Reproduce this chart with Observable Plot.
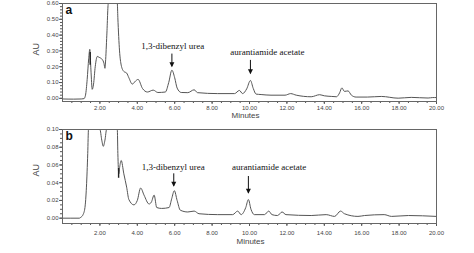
<!DOCTYPE html>
<html>
<head>
<meta charset="utf-8">
<script src="https://cdn.jsdelivr.net/npm/d3@7"></script>
<script src="https://cdn.jsdelivr.net/npm/@observablehq/plot@0.6"></script>
<style>
  html, body { margin: 0; padding: 0; background: #fff; }
  #wrap { width: 474px; height: 253px; position: relative; overflow: hidden; }
  #wrap svg { display: block; }
</style>
</head>
<body>
<div id="wrap"></div>
<script>
// ---- Data ----
const timesA = [0.0,0.6,1.0,1.15,1.23,1.32,1.40,1.46,1.52,1.59,1.66,1.75,1.86,1.95,2.13,2.22,2.27,2.30,2.37,2.45,2.6,2.8,2.93,2.96,3.05,3.14,3.28,3.43,3.55,3.73,3.91,4.04,4.28,4.54,4.85,5.1,5.5,5.68,5.85,6.0,6.13,6.35,6.7,7.04,7.22,8.3,9.2,9.46,9.63,9.85,10.05,10.2,10.35,10.62,11.15,11.9,12.2,12.5,13.3,13.75,14.0,14.4,14.65,14.82,14.94,15.08,15.27,15.45,15.7,16.3,17.05,17.95,18.65,19.55,19.8,20.0];
const auA    = [-0.004,-0.005,-0.004,-0.002,0.02,0.12,0.25,0.31,0.18,0.057,0.09,0.20,0.265,0.26,0.245,0.22,0.19,0.23,0.40,0.62,1.0,1.0,0.62,0.51,0.30,0.21,0.17,0.16,0.13,0.09,0.11,0.12,0.062,0.04,0.052,0.037,0.04,0.10,0.178,0.13,0.065,0.037,0.036,0.054,0.036,0.03,0.03,0.05,0.03,0.06,0.113,0.063,0.027,0.024,0.02,0.02,0.03,0.02,0.01,0.023,0.016,0.012,0.01,0.035,0.066,0.044,0.047,0.02,0.008,0.008,0.012,0.001,0.006,0.002,0.005,0.005];

const timesB = [0.0,0.9,0.98,1.1,1.2,1.28,1.35,1.39,1.5,1.9,2.0,2.1,2.18,2.27,2.36,2.5,2.8,2.93,2.96,3.01,3.06,3.14,3.28,3.43,3.55,3.82,4.0,4.18,4.36,4.63,4.75,4.9,5.04,5.3,5.7,5.84,5.98,6.13,6.3,6.7,7.04,7.3,8.3,9.1,9.37,9.55,9.8,9.94,10.08,10.26,10.8,11.03,11.2,11.5,11.74,11.95,13.3,14.1,14.55,14.87,15.08,15.8,16.15,17.2,17.6,18.5,20.0];
const auB    = [0.0,0.0,0.001,0.004,0.012,0.035,0.073,0.105,0.2,0.2,0.105,0.088,0.081,0.088,0.105,0.2,0.2,0.105,0.073,0.05,0.058,0.065,0.05,0.035,0.021,0.015,0.02,0.034,0.026,0.016,0.018,0.026,0.012,0.011,0.012,0.022,0.031,0.02,0.009,0.007,0.008,0.005,0.004,0.004,0.008,0.004,0.012,0.021,0.01,0.004,0.004,0.008,0.004,0.003,0.007,0.004,0.003,0.004,0.002,0.008,0.005,0.002,0.003,0.004,0.002,0.003,0.002];

const xTicks = [2,4,6,8,10,12,14,16,18,20];
const xMinor = d3.range(0.5, 20.01, 0.5);
const yTicksA = [0,0.1,0.2,0.3,0.4,0.5,0.6];
const yMinorA = d3.range(0, 0.601, 0.02);
const yTicksB = [0,0.02,0.04,0.06,0.08,0.10];
const yMinorB = d3.range(0, 0.1001, 0.005);

const compoundNames = ["1,3-dibenzyl urea", "aurantiamide acetate"];
const peakTimesA = [5.85, 10.05];
const peakTimesB = [5.95, 9.94];
const panelLetters = ["a", "b"];

// ---- Drawing ----
const downTri = {
  draw(ctx, size) {
    const w = Math.sqrt(size);
    ctx.moveTo(-w / 2, -w / 2);
    ctx.lineTo(w / 2, -w / 2);
    ctx.lineTo(0, w / 2);
    ctx.closePath();
  }
};

function panel(o) {
  const data = o.times.map((t, i) => ({t, v: o.vals[i]}));
  const arrows = compoundNames.map((name, i) => ({
    name, x: o.peaks[i], tx: o.textX[i], ty: o.textY[i], y1: o.arrowTop[i], y2: o.arrowBot[i]
  }));
  return Plot.plot({
    width: 474,
    height: o.height,
    marginLeft: 62,
    marginRight: 38,
    marginTop: o.mt,
    marginBottom: o.mb,
    style: {fontFamily: "Arial, 'Liberation Sans', sans-serif", fontSize: "6px", color: "#444", background: "transparent"},
    x: {domain: [0, 20], axis: null},
    y: {domain: o.ydom, axis: null, clamp: true},
    marks: [
      Plot.axisX({ticks: xMinor, tickSize: 2, text: null, stroke: "#555", anchor: "bottom"}),
      Plot.axisX({ticks: xTicks, tickSize: 3, tickPadding: o.xpad, tickFormat: d3.format(".2f"), anchor: "bottom", stroke: "#555", fill: "#444", label: null}),
      Plot.axisY({ticks: o.yminor, tickSize: 2, text: null, stroke: "#555", anchor: "left"}),
      Plot.axisY({ticks: o.yticks, tickSize: 3, tickPadding: 1, tickFormat: d3.format(".2f"), anchor: "left", stroke: "#555", fill: "#444", label: null}),
      Plot.line(data, {x: "t", y: "v", stroke: "#555", strokeWidth: 1, curve: "monotone-x", clip: true}),
      Plot.ruleX([o.mark], {x: d => d[0], y1: d => d[1], y2: d => d[2], stroke: "#222", strokeWidth: 1.4}),
      Plot.frame({stroke: "#666", strokeWidth: 1}),
      Plot.text([o.letter], {frameAnchor: "top-left", dx: 3, dy: 2, text: d => d, fontWeight: "bold", fontSize: 12, fill: "#111", textAnchor: "start", lineAnchor: "top"}),
      Plot.text(arrows, {x: "tx", y: "ty", text: "name", fontFamily: "'Liberation Serif', 'Times New Roman', serif", fontSize: 9, fill: "#111"}),
      Plot.ruleX(arrows, {x: "x", y1: "y1", y2: "y2", stroke: "#111", strokeWidth: 1}),
      Plot.dot(arrows, {x: "x", y: "y2", symbol: downTri, r: 2.8, fill: "#111", stroke: "none", dy: -2}),
      Plot.text(["Minutes"], {frameAnchor: "bottom", dx: o.minX, dy: o.minY, text: d => d, fontSize: 8, fill: "#444"}),
      Plot.text(["AU"], {frameAnchor: "left", dx: -26, dy: o.auDy, text: d => d, rotate: -90, fontSize: 9, fill: "#444"})
    ]
  });
}

const wrap = document.getElementById("wrap");

const a = panel({
  times: timesA, vals: auA, ydom: [-0.02, 0.6], yticks: yTicksA, yminor: yMinorA,
  height: 120, mt: 3, mb: 19, xpad: 1.5, letter: panelLetters[0],
  peaks: peakTimesA, textX: [5.9, 10.95], textY: [0.33, 0.293],
  arrowTop: [0.28, 0.24], arrowBot: [0.20, 0.155],
  mark: [1.48, 0.29, 0.21],
  minX: -4, minY: 16.5, auDy: 3
});
const b = panel({
  times: timesB, vals: auB, ydom: [-0.006, 0.10], yticks: yTicksB, yminor: yMinorB,
  height: 133, mt: 9, mb: 30, xpad: 4.5, letter: panelLetters[1],
  peaks: peakTimesB, textX: [5.92, 11.05], textY: [0.0575, 0.0575],
  arrowTop: [0.050, 0.047], arrowBot: [0.036, 0.028],
  mark: [3.0, 0.056, 0.045],
  minX: 1, minY: 20, auDy: 0
});
wrap.appendChild(a);
wrap.appendChild(b);
</script>
</body>
</html>
